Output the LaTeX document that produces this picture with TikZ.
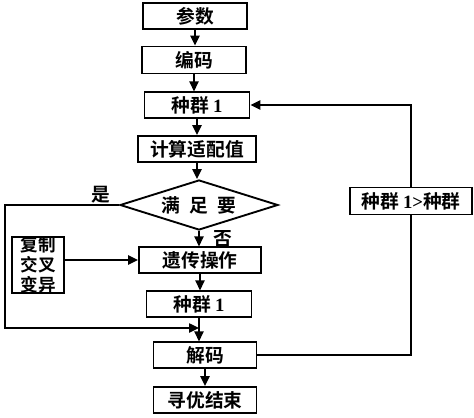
\documentclass[tikz,border=0pt]{standalone}
\usepackage{fontspec}
\setmainfont{Liberation Serif}
\newfontfamily\zh{Noto Sans CJK SC Bold}
\usetikzlibrary{shapes.geometric, arrows.meta, positioning}
\newcommand{\R}[1]{\textrm{\bfseries #1}}

\begin{document}
\begin{tikzpicture}[x=0.03cm, y=-0.03cm,
    caja/.style={draw, line width=1.6pt, inner sep=0pt, minimum height=0.76cm,
      font=\fontsize{16pt}{17pt}\selectfont\zh},
    rombo/.style={diamond, aspect=3.16, draw, line width=1.6pt, inner sep=0pt,
      font=\fontsize{16pt}{17pt}\selectfont\zh},
    flecha/.style={-{Triangle[length=0.3cm, width=0.28cm]}, line width=1.2pt},
    linea/.style={line width=1.2pt}]
    \useasboundingbox (0,0) rectangle (474,417);
    % Columna principal del diagrama
    \node[caja, minimum width=3.12cm, minimum height=0.78cm] (param) at (195,16) {参数};
    \node[caja, minimum width=3.12cm, minimum height=0.81cm] (codif) at (194,60) {编码};
    \node[caja, minimum width=3.15cm] (pob1) at (197,105) {种群 \R{1}};
    \node[caja, minimum width=3.54cm, minimum height=0.78cm] (apt) at (197,149) {计算适配值};
    \node[rombo, minimum width=4.74cm, minimum height=1.5cm] (cond) at (199,205)
      {满\hspace{0.5em}足\hspace{0.5em}要};
    \node[caja, minimum width=3.66cm] (gen) at (200,260) {遗传操作};
    \node[caja, minimum width=3.15cm] (pob2) at (199,304) {种群 \R{1}};
    \node[caja, minimum width=3.09cm] (decod) at (205,355) {解码};
    \node[caja, minimum width=3.09cm, minimum height=0.78cm] (fin) at (205,400) {寻优结束};
    % Cajas laterales
    \node[caja, minimum width=1.56cm, minimum height=1.68cm, align=center,
      font=\fontsize{15pt}{17pt}\selectfont\zh] (ops) at (38,265) {复制\\交叉\\变异};
    \node[caja, minimum width=3.66cm, minimum height=0.81cm] (reemp) at (411,201) {种群 \R{1>}种群};
    \coordinate (esq) at (5,328);
    % Flechas verticales
    \draw[flecha] (param.south) -- (param.south |- codif.north);
    \draw[flecha] (codif.south) -- (codif.south |- pob1.north);
    \draw[flecha] (pob1.south) -- (pob1.south |- apt.north);
    \draw[flecha] (apt.south) -- (apt.south |- cond.north);
    \draw[flecha] (cond.south) -- node[right, inner sep=0pt, xshift=0.42cm,
      font=\fontsize{16pt}{17pt}\selectfont\zh] {否} (cond.south |- gen.north);
    \draw[flecha] (gen.south) -- (gen.south |- pob2.north);
    \draw[flecha] (pob2.south) -- (pob2.south |- decod.north);
    \draw[flecha] (decod.south) -- (decod.south |- fin.north);
    % Rama del si y operadores
    \draw[flecha] (cond.west) node[anchor=south east, inner sep=1pt, xshift=-0.2cm,
      font=\fontsize{16pt}{17pt}\selectfont\zh] {是} -| (esq) -- (esq -| pob2.south);
    \draw[flecha] (ops.east |- gen.west) -- (gen.west);
    % Lazo de la derecha
    \draw[linea] (decod.east) -| (reemp.south);
    \draw[flecha] (reemp.north) |- (pob1.east);
\end{tikzpicture}
\end{document}
